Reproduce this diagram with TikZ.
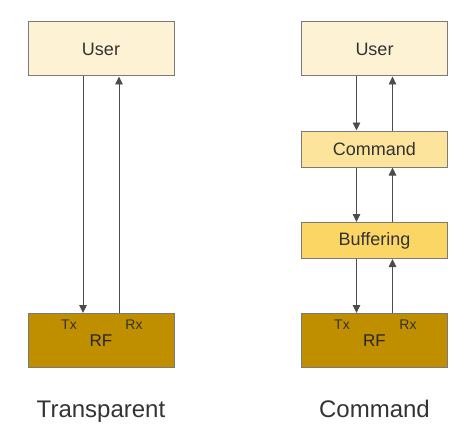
\documentclass[tikz,border=0pt]{standalone}
\usepackage{fontspec}
\setmainfont{Liberation Sans}
\usetikzlibrary{arrows.meta}
\definecolor{userfill}{HTML}{FEF2D4}
\definecolor{cmdfill}{HTML}{FDE49C}
\definecolor{buffill}{HTML}{FCD664}
\definecolor{rffill}{HTML}{BF8F00}
\definecolor{boxline}{HTML}{7A7A7A}
\definecolor{txtgray}{HTML}{333333}
\begin{document}
\begin{tikzpicture}[x=1pt,y=-1pt,>={Triangle[width=7.5pt,length=8pt]},
  box/.style={draw=boxline,line width=1pt,minimum width=146pt,inner sep=0pt,text=txtgray,font=\fontsize{18}{20}\selectfont},
  bigbox/.style={box,minimum height=54pt},
  midbox/.style={box,minimum height=36pt},
  flow/.style={->,line width=0.9pt,black!70},
  port/.style={font=\fontsize{14}{15}\selectfont,text=black!80},
  caption/.style={anchor=base,font=\fontsize{24}{28}\selectfont,text=txtgray}]
  \useasboundingbox (0,0) rectangle (474,436);
  % transparent mode
  \node[bigbox,fill=userfill] (userL) at (101,49) {User};
  \node[bigbox,fill=rffill] (rfL) at (101,340.5) {};
  \node[font=\fontsize{17}{18}\selectfont,text=black!85] (rfLtext) at (101,341) {RF};
  \node[port] (txL) at (69,325) {Tx};
  \node[port] (rxL) at (134,325) {Rx};
  \draw[flow] ([xshift=-18pt]userL.south) -- ([xshift=-18pt]rfL.north);
  \draw[flow] ([xshift=18pt]rfL.north) -- ([xshift=18pt]userL.south);
  \node[caption] (capL) at (101,417) {Transparent};
  % command mode
  \node[bigbox,fill=userfill] (userR) at (374.5,49) {User};
  \node[midbox,fill=cmdfill] (cmdR) at (374.5,149) {Command};
  \node[midbox,fill=buffill] (bufR) at (374.5,240.5) {Buffering};
  \node[bigbox,fill=rffill] (rfR) at (374.5,340.5) {};
  \node[font=\fontsize{17}{18}\selectfont,text=black!85] (rfRtext) at (374.5,341) {RF};
  \node[port] (txR) at (342,325) {Tx};
  \node[port] (rxR) at (408,325) {Rx};
  \draw[flow] ([xshift=-18pt]userR.south) -- ([xshift=-18pt]cmdR.north);
  \draw[flow] ([xshift=18pt]cmdR.north) -- ([xshift=18pt]userR.south);
  \draw[flow] ([xshift=-18pt]cmdR.south) -- ([xshift=-18pt]bufR.north);
  \draw[flow] ([xshift=18pt]bufR.north) -- ([xshift=18pt]cmdR.south);
  \draw[flow] ([xshift=-18pt]bufR.south) -- ([xshift=-18pt]rfR.north);
  \draw[flow] ([xshift=18pt]rfR.north) -- ([xshift=18pt]bufR.south);
  \node[caption] (capR) at (374.5,417) {Command};
\end{tikzpicture}
\end{document}
